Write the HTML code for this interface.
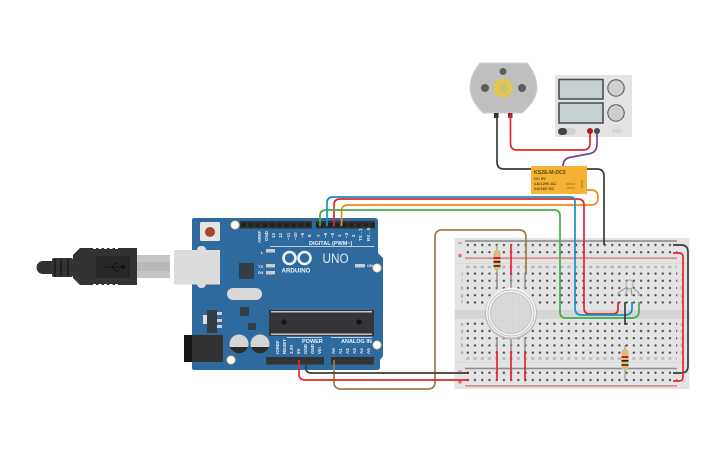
<!DOCTYPE html>
<html><head><meta charset="utf-8"><style>html,body{margin:0;padding:0;background:#fff;width:725px;height:453px;overflow:hidden}svg{display:block}text{font-family:"Liberation Sans",sans-serif}</style></head><body>
<svg width="725" height="453" viewBox="0 0 725 453" xmlns="http://www.w3.org/2000/svg">
<defs>
<pattern id="h1" x="464.2" y="241.4" width="7.22" height="7.22" patternUnits="userSpaceOnUse"><circle cx="3.61" cy="3.61" r="1.15" fill="#4a4a4a"/></pattern>
<pattern id="h2" x="464.2" y="270" width="7.22" height="7.22" patternUnits="userSpaceOnUse"><circle cx="3.61" cy="3.61" r="1.15" fill="#4a4a4a"/></pattern>
<pattern id="h3" x="464.2" y="320.2" width="7.22" height="7.22" patternUnits="userSpaceOnUse"><circle cx="3.61" cy="3.61" r="1.15" fill="#4a4a4a"/></pattern>
<pattern id="h4" x="464.2" y="369.2" width="7.22" height="7.22" patternUnits="userSpaceOnUse"><circle cx="3.61" cy="3.61" r="1.15" fill="#4a4a4a"/></pattern>
<pattern id="hd" x="240" y="0" width="7.2" height="7.2" patternUnits="userSpaceOnUse"><rect x="1" y="0" width="5" height="8" fill="#1d1d1d"/></pattern>
<pattern id="mesh" x="0" y="0" width="2.4" height="2.4" patternUnits="userSpaceOnUse"><rect width="2.4" height="2.4" fill="#dcdcdc"/><circle cx="1.2" cy="1.2" r=".5" fill="#c6c6c6"/></pattern>
</defs>
<!-- Breadboard -->
<rect x="454.5" y="238" width="235" height="151" rx="1" fill="#e4e4e4"/>
<rect x="454.500" y="310" width="235" height="9" fill="#d6d6d6"/>
<rect x="454.500" y="263" width="235" height="1" fill="#dadada"/>
<rect x="454.500" y="362" width="235" height="1" fill="#dadada"/>
<rect x="465" y="240.200" width="212" height="1.600" fill="#8d8d8d"/>
<rect x="465" y="257.300" width="212" height="1.800" fill="#d88f8f"/>
<rect x="465" y="367.700" width="212" height="1.600" fill="#8d8d8d"/>
<rect x="465" y="385" width="212" height="1.800" fill="#d88f8f"/>
<rect x="464.200" y="241.400" width="213" height="14.440" fill="url(#h1)"/>
<rect x="464.200" y="270" width="213" height="36.100" fill="url(#h2)"/>
<rect x="464.200" y="320.200" width="213" height="36.100" fill="url(#h3)"/>
<rect x="464.200" y="369.200" width="213" height="14.440" fill="url(#h4)"/>
<g fill="#8a8a8a" font-size="5" text-anchor="middle">
<text x="462" y="275">j</text><text x="462" y="282">i</text><text x="462" y="290">h</text><text x="462" y="297">g</text><text x="462" y="304">f</text>
<text x="462" y="326">e</text><text x="462" y="333">d</text><text x="462" y="340">c</text><text x="462" y="347">b</text><text x="462" y="354">a</text>
<text x="682" y="275">j</text><text x="682" y="282">i</text><text x="682" y="290">h</text><text x="682" y="297">g</text><text x="682" y="304">f</text>
<text x="682" y="326">e</text><text x="682" y="333">d</text><text x="682" y="340">c</text><text x="682" y="347">b</text><text x="682" y="354">a</text>
</g>
<g stroke="#b8b8b8" stroke-width="2.600" stroke-dasharray="3.200 4.020"><path d="M466.200 267H677M466.200 358.500H677"/></g>
<circle cx="460" cy="255.500" r="1.700" fill="#d9706f"/><circle cx="460" cy="382" r="1.700" fill="#d9706f"/>
<path d="M458 243h4M458 371h4" stroke="#8f8f8f" stroke-width="1"/>

<!-- Arduino -->
<path d="M192 220q0-2 2-2H375q2 0 3 2v33l5 5v98l-3 4v7q0 3-3 3H194q-2 0-2-2z" fill="#2f6a9e"/>
<circle cx="235" cy="225" r="4" fill="#fff" stroke="#e9d9a0"/><circle cx="377" cy="268" r="4" fill="#fff" stroke="#e9d9a0"/><circle cx="377" cy="345" r="4" fill="#fff" stroke="#e9d9a0"/><circle cx="231" cy="360" r="4" fill="#fff" stroke="#e9d9a0"/>
<rect x="240" y="221" width="72" height="7.500" fill="#333"/><rect x="240" y="223" width="72" height="4" fill="url(#hd)" opacity=".8"/>
<rect x="316" y="221" width="59" height="7.500" fill="#333"/><rect x="316" y="223" width="59" height="4" fill="url(#hd)" opacity=".8"/>
<rect x="266" y="357" width="58" height="7.500" fill="#333"/><rect x="331" y="357" width="43" height="7.500" fill="#333"/>
<rect x="200" y="222" width="20" height="19" rx="1.500" fill="#e4e4e4"/><circle cx="210" cy="232" r="5" fill="#a8452c"/>
<rect x="197" y="246" width="9" height="42" rx="4" fill="#dcdcdc"/>
<rect x="239" y="263" width="15" height="16" fill="#333d45"/>
<rect x="227" y="288" width="35" height="12" rx="6" fill="#d9d9d9"/>
<rect x="240" y="307" width="9" height="9" fill="#333d45"/>
<rect x="203" y="315" width="5" height="9" fill="#ddd"/>
<rect x="207" y="310" width="10" height="23" fill="#333d45"/>
<rect x="217" y="312" width="5" height="3" fill="#ccc"/><rect x="217" y="319" width="5" height="3" fill="#ccc"/><rect x="217" y="325" width="5" height="3" fill="#ccc"/>
<rect x="248" y="323" width="8" height="7" fill="#333d45"/>
<rect x="269" y="310" width="105" height="26" fill="#333538"/>
<rect x="271" y="311" width="101" height="1.500" fill="#e8e8e8" opacity=".8"/><rect x="271" y="333.500" width="101" height="1.500" fill="#e8e8e8" opacity=".8"/>
<circle cx="284" cy="322" r="2.600" fill="#151515"/><circle cx="359" cy="322" r="2.600" fill="#151515"/>
<rect x="184" y="335" width="39" height="27" rx="1" fill="#333"/><rect x="184" y="335" width="8" height="27" fill="#161616"/>
<circle cx="239" cy="344" r="9.500" fill="#d4d4d4"/><path d="M230 347a9.500 9.500 0 0 0 18 0z" fill="#2c2c2c"/>
<circle cx="260" cy="344" r="9.500" fill="#d4d4d4"/><path d="M251 347a9.500 9.500 0 0 0 18 0z" fill="#2c2c2c"/>
<rect x="266" y="249" width="9" height="3.500" fill="#ccc"/><rect x="266" y="264" width="9" height="3.500" fill="#ccc"/><rect x="266" y="271" width="9" height="3.500" fill="#ccc"/><rect x="355" y="264" width="10" height="3.500" fill="#ccc"/>
<path d="M270 246.500H374" stroke="#e8eef5" stroke-width=".8"/><path d="M287 337.500H322M331 337.500H372" stroke="#e8eef5" stroke-width=".8"/>
<g fill="#eef3f8" font-weight="bold" font-size="5.500">
<text x="309" y="245">DIGITAL (PWM~)</text>
<text x="302" y="343">POWER</text>
<text x="341" y="343">ANALOG IN</text>
<text x="261" y="254" font-size="4">L</text><text x="258" y="268" font-size="4">TX</text><text x="258" y="274" font-size="4">RX</text><text x="367" y="267" font-size="4">ON</text>
<text x="281.500" y="272.500" font-size="6.200">ARDUINO</text>
</g>
<g fill="none" stroke="#eef3f8" stroke-width="2.600"><circle cx="289.500" cy="258" r="6"/><circle cx="304.500" cy="258" r="6"/></g>
<text transform="translate(322.500,263) scale(.84,1)" font-size="14" fill="#e2ebf3">UNO</text>
<g fill="#e6edf4" font-size="4.500" font-weight="bold">
<text transform="translate(261,243) rotate(-90)">AREF</text><text transform="translate(268,241) rotate(-90)">GND</text><text transform="translate(275,238) rotate(-90)">13</text><text transform="translate(282,238) rotate(-90)">12</text><text transform="translate(290,240) rotate(-90)">~11</text><text transform="translate(297,240) rotate(-90)">~10</text><text transform="translate(304,238) rotate(-90)">~9</text><text transform="translate(311,237) rotate(-90)">8</text>
<text transform="translate(320,237) rotate(-90)">7</text><text transform="translate(327,238) rotate(-90)">~6</text><text transform="translate(334,238) rotate(-90)">~5</text><text transform="translate(341,237) rotate(-90)">4</text><text transform="translate(348,238) rotate(-90)">~3</text><text transform="translate(355,237) rotate(-90)">2</text><text transform="translate(362,241) rotate(-90)">TX→1</text><text transform="translate(370,241) rotate(-90)">RX←0</text>
<text transform="translate(279,354) rotate(-90)">IOREF</text><text transform="translate(286,354) rotate(-90)">RESET</text><text transform="translate(293,354) rotate(-90)">3.3V</text><text transform="translate(300,354) rotate(-90)">5V</text><text transform="translate(307,354) rotate(-90)">GND</text><text transform="translate(314,354) rotate(-90)">GND</text><text transform="translate(321,354) rotate(-90)">Vin</text>
<text transform="translate(335,354) rotate(-90)">A0</text><text transform="translate(342,354) rotate(-90)">A1</text><text transform="translate(349,354) rotate(-90)">A2</text><text transform="translate(356,354) rotate(-90)">A3</text><text transform="translate(363,354) rotate(-90)">A4</text><text transform="translate(370,354) rotate(-90)">A5</text>
</g>

<!-- USB -->
<rect x="174" y="250" width="46" height="34.500" fill="#dcdcdc"/>
<rect x="137" y="255" width="33" height="23" fill="#c6c6c6"/><rect x="137" y="262" width="33" height="9" fill="#b9b9b9"/>
<path d="M73 255l7-7h57v37H80l-7-7z" fill="#333"/>
<path d="M93 248.500h27M93 284.500h27" stroke="#fff" stroke-width="1" stroke-dasharray="3 2.500"/>
<rect x="96" y="256" width="34" height="22" fill="#272727"/>
<path d="M105 267h20M112 267l4-4h3M112 267l4 4h3" stroke="#111" stroke-width="1" fill="none"/><circle cx="123" cy="267" r="2" fill="#111"/>
<rect x="52" y="258" width="21" height="19" rx="2" fill="#333"/>
<path d="M52 261h-9a6.500 6.500 0 0 0 0 13h9z" fill="#333"/>
<path d="M55 259v17M61 259v17M68 259v17" stroke="#1a1a1a" stroke-width="1.500"/>

<!-- Sensor -->
<g stroke="#8c8c8c" stroke-width="1.500" fill="none"><path d="M497 273v16M511 273v14M525 273v16M497 337v14M511 339v12M525 337v14"/></g>
<circle cx="511" cy="313.500" r="26" fill="#bdbdbd"/><circle cx="511" cy="312.500" r="25" fill="#f4f4f4"/><circle cx="511" cy="313" r="23" fill="#f4f4f4" stroke="#b5b5b5" stroke-width=".8"/><circle cx="511" cy="313" r="20.500" fill="url(#mesh)" stroke="#c4c4c4"/>

<!-- Breadboard jumpers -->
<g stroke="#e3272d" stroke-width="1.700" fill="none"><path d="M511 245V275M497 351V381M511 351V381M525 351V381"/></g>

<!-- Resistors -->
<path d="M497 245V275M625 345V381" stroke="#999" stroke-width="1.200"/>
<rect x="493.500" y="250" width="7" height="20" rx="3" fill="#d9bb7c"/>
<rect x="493.500" y="257" width="7" height="2" fill="#e01b1b"/><rect x="493.500" y="261" width="7" height="1.700" fill="#222"/><rect x="493.500" y="265" width="7" height="2" fill="#6e3f10"/>
<rect x="621.500" y="349" width="7" height="21" rx="3" fill="#d9bb7c"/>
<rect x="621.500" y="356" width="7" height="2" fill="#e01b1b"/><rect x="621.500" y="360" width="7" height="1.700" fill="#222"/><rect x="621.500" y="364" width="7" height="2" fill="#6e3f10"/>

<!-- LED -->
<g fill="none" stroke="#9a9a9a" stroke-width="1.100"><path d="M627 287L618 293V296M628 288L625 296M631 288L632 296M632 287L639 293V296"/></g>
<rect x="626" y="280" width="7" height="9" rx="3" fill="none" stroke="#a5a5a5"/>

<!-- Motor -->
<path d="M480 63H527Q537 75 537 88Q537 100 522 113H483Q470 100 470 88Q470 75 480 63z" fill="#bfbfbf" stroke="#cfcfcf"/>
<circle cx="485" cy="88" r="4" fill="#5c5c5c"/><circle cx="522" cy="88" r="4" fill="#5c5c5c"/><circle cx="503" cy="71.500" r="3.500" fill="#5c5c5c"/>
<circle cx="503" cy="88" r="7.500" fill="#eccb36"/><circle cx="503" cy="88" r="8.700" fill="none" stroke="#eccb36" stroke-width="3" stroke-dasharray="2.500 2.400"/><circle cx="503" cy="88" r="5.300" fill="#d0c270"/>
<rect x="494" y="113" width="4.500" height="5" fill="#333"/><rect x="508" y="113" width="4.500" height="5" fill="#a81c22"/>

<!-- Power supply -->
<rect x="555" y="75" width="77" height="62" rx="1" fill="#e3e3e3"/>
<rect x="559" y="79.500" width="44" height="19.500" fill="#c6cfd2" stroke="#3d4a4e" stroke-width="1.500"/>
<rect x="559" y="103" width="44" height="20" fill="#c6cfd2" stroke="#3d4a4e" stroke-width="1.500"/>
<circle cx="616" cy="88" r="8.200" fill="#cfcfcf" stroke="#555" stroke-width="1"/><circle cx="616" cy="113" r="8.200" fill="#cfcfcf" stroke="#555" stroke-width="1"/>
<rect x="558" y="128" width="18" height="7" rx="3.500" fill="#cfcfcf"/><rect x="558" y="128" width="9" height="7" rx="3.500" fill="#444"/>
<rect x="612" y="129" width="10" height="4" fill="#d6d6d6"/>

<!-- Wires -->
<path d="M497 115V162Q497 169 504 169H597Q604 169 604 176V245" fill="none" stroke="#3b3b3b" stroke-width="1.700"/>
<path d="M587 190H591Q598 190 598 197.500Q598 205 591 205H348Q341.500 205 341.500 211V226" fill="none" stroke="#ef8a17" stroke-width="1.700"/>
<path d="M334 226V205Q334 199 340 199H578Q584 199 584 205V308Q584 314 590 314H613Q618 314 618 309V302" fill="none" stroke="#e3272d" stroke-width="1.700"/>
<path d="M327 226V203Q327 197 333 197H570Q575 197 575 202V308Q575 315 582 315H625Q632 315 632 308V302" fill="none" stroke="#1a8fc7" stroke-width="1.700"/>
<path d="M320 226V216Q320 210 326 210H554Q560 210 560 216V312Q560 318 566 318H632Q639 318 639 311V302" fill="none" stroke="#3fae49" stroke-width="1.700"/>
<path d="M625 302V325" stroke="#3b3b3b" stroke-width="1.700"/>
<path d="M510.500 115V143Q510.500 150 517 150H583Q590 150 590 143V131" fill="none" stroke="#e3272d" stroke-width="1.700"/>
<path d="M597 131V144Q597 153 588 154L572 157Q563 158 563 166" fill="none" stroke="#7b3f98" stroke-width="1.700"/>
<circle cx="590" cy="131" r="3" fill="#a81c22"/><circle cx="597" cy="131" r="3" fill="#4a4a4a"/>

<!-- Relay -->
<rect x="531" y="166" width="56" height="28" fill="#f5b335"/>
<g fill="#5c4516" font-weight="bold"><text x="534" y="174" font-size="5.200">KS2E-M-DC5</text><text x="534" y="180" font-size="4">DC 5V</text><text x="534" y="185" font-size="4">1A/125V AC</text><text x="534" y="190" font-size="4">2A/18V DC</text></g>
<path d="M566 184h9M567 188h8M582 180v8" stroke="#8a6a20" stroke-width=".8"/>

<!-- Bottom + rail wires -->
<path d="M334 360V382Q334 389 341 389H428Q435 389 435 382V237Q435 230 442 230H519Q526 230 526 237V273" fill="none" stroke="#a07a4e" stroke-width="1.700"/>
<path d="M306 363V368Q306 373 311 373H469" fill="none" stroke="#3b3b3b" stroke-width="1.700"/>
<path d="M299 360V374Q299 380 305 380H469" fill="none" stroke="#e3272d" stroke-width="1.700"/>
<path d="M673 245H681Q688 245 688 252V366Q688 373 681 373H673" fill="none" stroke="#3b3b3b" stroke-width="1.700"/>
<path d="M673 253H679Q683 253 683 257V377Q683 381 679 381H673" fill="none" stroke="#e3272d" stroke-width="1.700"/>
</svg>
</body></html>
